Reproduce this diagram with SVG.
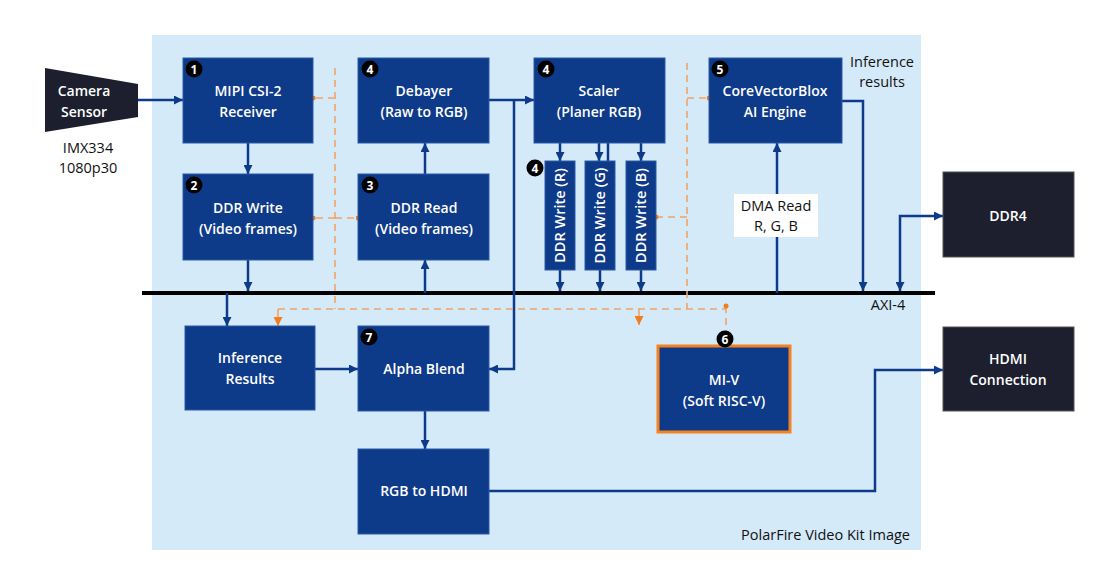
<svg xmlns="http://www.w3.org/2000/svg" width="1100" height="566" viewBox="0 0 1100 566">
<style>
.bx{fill:#0e3a8a;stroke:#2a5aa8;stroke-width:1}
.dk{fill:#1d1f2e;stroke:#555;stroke-width:1}
.t{font-family:"Open Sans","Noto Sans",sans-serif;font-size:14px;font-weight:600;fill:#fff;text-anchor:middle}
.tr{font-family:"Open Sans","Noto Sans",sans-serif;font-size:14.5px;font-weight:600;fill:#fff;text-anchor:middle}
.tb{font-family:"Open Sans","Noto Sans",sans-serif;font-size:14.5px;fill:#111;text-anchor:middle}
.bd{fill:#000}
.bn{font-family:"Open Sans","Noto Sans",sans-serif;font-size:12px;font-weight:700;fill:#fff;text-anchor:middle}
.c{fill:none;stroke:#0e3a8a;stroke-width:2.5}
.ca{fill:none;stroke:#0e3a8a;stroke-width:2.5;marker-end:url(#a)}
.o{fill:none;stroke:#f2a467;stroke-width:1.6;stroke-dasharray:7 5}
.od{fill:none;stroke:#f2a467;stroke-width:1.6;stroke-dasharray:7 5;marker-end:url(#dot)}
.os{fill:none;stroke:#f2a467;stroke-width:1.6;marker-end:url(#oa)}
</style>
<defs>
<marker id="a" viewBox="0 0 10 10" refX="10" refY="5" markerWidth="9" markerHeight="9" markerUnits="userSpaceOnUse" orient="auto-start-reverse"><path d="M0,0 L10,5 L0,10 z" fill="#0e3a8a"/></marker>
<marker id="oa" viewBox="0 0 10 10" refX="10" refY="5" markerWidth="9" markerHeight="9" markerUnits="userSpaceOnUse" orient="auto"><path d="M0,0 L10,5 L0,10 z" fill="#f07d1e"/></marker>
<marker id="dot" viewBox="0 0 10 10" refX="5" refY="5" markerWidth="5" markerHeight="5" markerUnits="userSpaceOnUse"><circle cx="5" cy="5" r="5" fill="#f07d1e"/></marker>
</defs>
<rect x="0" y="0" width="1100" height="566" fill="#fff"/>
<rect x="152" y="35" width="769" height="515" fill="#d4eaf8"/>

<g id="connectors">
<line x1="142" y1="293" x2="935" y2="293" stroke="#000" stroke-width="4"/>
<path class="ca" d="M138,100 H183"/>
<path class="ca" d="M248,143 V174"/>
<path class="ca" d="M248,260 V291"/>
<path class="ca" d="M425,293 V260"/>
<path class="ca" d="M425,174 V143"/>
<path class="ca" d="M489,100 H534"/>
<path class="ca" d="M514,100 V369 H489"/>
<path class="ca" d="M560,143 V161"/>
<path class="ca" d="M599,143 V161"/>
<path class="c" d="M608,143 V161"/>
<path class="ca" d="M641,143 V161"/>
<path class="ca" d="M560,270 V291"/>
<path class="ca" d="M600,270 V291"/>
<path class="ca" d="M641,270 V291"/>
<path class="ca" d="M227,293 V326"/>
<path class="ca" d="M315,369 H358"/>
<path class="ca" d="M425,411 V449"/>
<path class="ca" d="M489,491 H875 V370 H943"/>
<path class="ca" d="M842,101 H863 V291"/>
<path class="ca" d="M777,293 V143"/>
<path class="ca" d="M900,291 V216 H943" style="marker-start:url(#a)"/>
<path class="o" d="M335,68 V309"/>
<path class="od" d="M335,98 H313"/>
<path class="od" d="M335,218 H358"/>
<path class="od" d="M335,218 H313"/>
<path class="o" d="M278,309 H726"/>
<path class="os" d="M278,309 V326"/>
<path class="os" d="M639,309 V325"/>
<path class="o" d="M726,306 V332"/>
<circle cx="726" cy="306" r="2.5" fill="#f07d1e"/>
<path class="o" d="M687,63 V309"/>
<path class="od" d="M687,98 H709"/>
<path class="od" d="M687,217 H656"/>
</g>

<g id="camera">
<path d="M45,68 L138,84 L138,117 L45,132 z" fill="#1d1f2e"/>
<text class="t" x="84" y="96">Camera</text>
<text class="t" x="84" y="117">Sensor</text>
<text class="tb" x="88" y="153">IMX334</text>
<text class="tb" x="88" y="173">1080p30</text>
</g>

<g id="mipi">
<rect class="bx" x="183" y="58" width="130" height="85"/>
<circle class="bd" cx="194" cy="69" r="8.5"/><text class="bn" x="194" y="73.5">1</text>
<text class="t" x="248" y="96">MIPI CSI-2</text>
<text class="t" x="248" y="117">Receiver</text>
</g>

<g id="ddrwrite">
<rect class="bx" x="183" y="174" width="130" height="86"/>
<circle class="bd" cx="194" cy="185" r="8.5"/><text class="bn" x="194" y="189.5">2</text>
<text class="t" x="248" y="213">DDR Write</text>
<text class="t" x="248" y="234">(Video frames)</text>
</g>

<g id="debayer">
<rect class="bx" x="358" y="58" width="131" height="85"/>
<circle class="bd" cx="370" cy="69" r="8.5"/><text class="bn" x="370" y="73.5">4</text>
<text class="t" x="424" y="96">Debayer</text>
<text class="t" x="424" y="117">(Raw to RGB)</text>
</g>

<g id="ddrread">
<rect class="bx" x="358" y="174" width="131" height="86"/>
<circle class="bd" cx="370" cy="185" r="8.5"/><text class="bn" x="370" y="189.5">3</text>
<text class="t" x="424" y="213">DDR Read</text>
<text class="t" x="424" y="234">(Video frames)</text>
</g>

<g id="scaler">
<rect class="bx" x="534" y="58" width="131" height="85"/>
<circle class="bd" cx="546" cy="69" r="8.5"/><text class="bn" x="546" y="73.5">4</text>
<text class="t" x="599" y="96">Scaler</text>
<text class="t" x="599" y="117">(Planer RGB)</text>
</g>

<g id="ddrw-r">
<rect class="bx" x="545" y="161" width="30" height="109"/>
<text class="tr" transform="translate(565,215.5) rotate(-90)">DDR Write (R)</text>
</g>
<g id="ddrw-g">
<rect class="bx" x="585" y="161" width="30" height="109"/>
<text class="tr" transform="translate(605,215.5) rotate(-90)">DDR Write (G)</text>
</g>
<g id="ddrw-b">
<rect class="bx" x="626" y="161" width="30" height="109"/>
<text class="tr" transform="translate(646,215.5) rotate(-90)">DDR Write (B)</text>
</g>
<g id="badge4b">
<circle class="bd" cx="535" cy="168" r="8.5"/><text class="bn" x="535" y="172.5">4</text>
</g>

<g id="cvb">
<rect class="bx" x="709" y="58" width="133" height="85"/>
<circle class="bd" cx="720" cy="69" r="8.5"/><text class="bn" x="720" y="73.5">5</text>
<text class="t" x="775" y="96">CoreVectorBlox</text>
<text class="t" x="775" y="117">AI Engine</text>
</g>
<g id="infres-label">
<text class="tb" x="882" y="67">Inference</text>
<text class="tb" x="882" y="87">results</text>
</g>
<g id="dma">
<rect x="734" y="194" width="84" height="43" fill="#fff"/>
<text class="tb" x="776" y="211">DMA Read</text>
<text class="tb" x="776" y="231">R, G, B</text>
</g>

<g id="ddr4">
<rect class="dk" x="943" y="172" width="131" height="85"/>
<text class="t" x="1008" y="221">DDR4</text>
</g>
<g id="hdmi">
<rect class="dk" x="943" y="327" width="131" height="84"/>
<text class="t" x="1008" y="364">HDMI</text>
<text class="t" x="1008" y="385">Connection</text>
</g>
<text class="tb" x="888" y="310">AXI-4</text>

<g id="infres">
<rect class="bx" x="185" y="326" width="130" height="84"/>
<text class="t" x="250" y="363">Inference</text>
<text class="t" x="250" y="384">Results</text>
</g>
<g id="alpha">
<rect class="bx" x="358" y="326" width="131" height="85"/>
<circle class="bd" cx="369" cy="337" r="8.5"/><text class="bn" x="369" y="341.5">7</text>
<text class="t" x="424" y="374">Alpha Blend</text>
</g>
<g id="rgb2hdmi">
<rect class="bx" x="358" y="449" width="131" height="85"/>
<text class="t" x="424" y="496">RGB to HDMI</text>
</g>
<g id="miv">
<rect x="658" y="346" width="132" height="86" fill="#0e3a8a" stroke="#f58220" stroke-width="3"/>
<circle class="bd" cx="725" cy="339" r="8.5"/><text class="bn" x="725" y="343.5">6</text>
<text class="t" x="724" y="385">MI-V</text>
<text class="t" x="724" y="406">(Soft RISC-V)</text>
</g>
<text class="tb" x="910" y="540" style="text-anchor:end">PolarFire Video Kit Image</text>
</svg>
